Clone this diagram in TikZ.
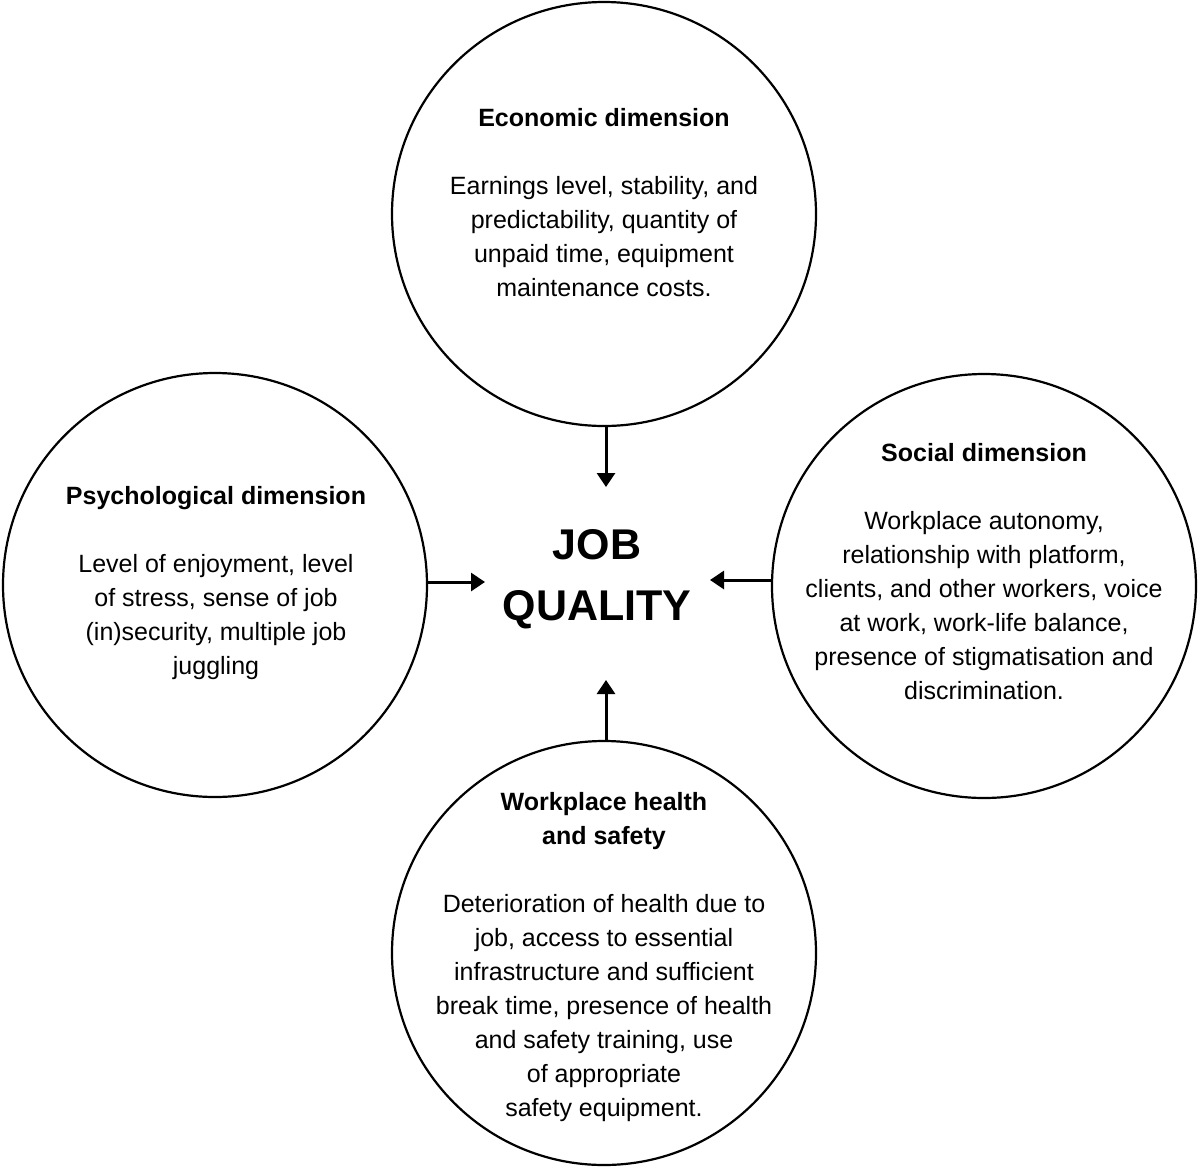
\documentclass[tikz,border=0pt]{standalone}
\usepackage{fontspec}
\setmainfont{Liberation Sans}
\usetikzlibrary{arrows.meta}
\begin{document}
\begin{tikzpicture}[x=1pt,y=-1pt,
  dimcircle/.style={draw, line width=2.2pt, circle, minimum size=424pt, inner sep=0pt},
  dimtext/.style={align=center, inner sep=0pt, font=\fontsize{25}{34}\selectfont},
  arr/.style={line width=3pt, -{Triangle[width=18pt,length=14pt]}},
  jobtext/.style={align=center, inner sep=0pt, font=\bfseries\fontsize{43}{61}\selectfont}
]
\useasboundingbox (0,0) rectangle (1200,1168);

% circles
\node[dimcircle] (econ) at (604,214) {};
\node[dimcircle] (psy) at (215,585) {};
\node[dimcircle] (soc) at (984,586) {};
\node[dimcircle] (hs) at (604,953) {};

% texts
\node[dimtext] (econT) at (604,205) {\textbf{Economic dimension}\strut\\[34pt]
Earnings level, stability, and\\
predictability, quantity of\\
unpaid time, equipment\\
maintenance costs.\strut};

\node[dimtext] (psyT) at (216,583) {\textbf{Psychological dimension}\strut\\[34pt]
Level of enjoyment, level\\
of stress, sense of job\\
(in)security, multiple job\\
juggling\strut};

\node[dimtext] (socT) at (984,574) {\textbf{Social dimension}\strut\\[34pt]
Workplace autonomy,\\
relationship with platform,\\
clients, and other workers, voice\\
at work, work-life balance,\\
presence of stigmatisation and\\
discrimination.\strut};

\node[dimtext] (hsT) at (604,956.5) {\textbf{Workplace health}\strut\\
\textbf{and safety}\\[34pt]
Deterioration of health due to\\
job, access to essential\\
infrastructure and sufficient\\
break time, presence of health\\
and safety training, use\\
of appropriate\\
safety equipment.\strut};

% centre
\node[jobtext] (job) at (597,578) {JOB\strut\\ QUALITY\strut};

% arrow tips
\coordinate (tipN) at (606,487);
\coordinate (tipS) at (606,680);
\coordinate (tipW) at (485,582);
\coordinate (tipE) at (710,580);

\draw[arr] (econ.south -| tipN) -- (tipN);
\draw[arr] (hs.north -| tipS) -- (tipS);
\draw[arr] (psy.east |- tipW) -- (tipW);
\draw[arr] (soc.west |- tipE) -- (tipE);
\end{tikzpicture}
\end{document}
